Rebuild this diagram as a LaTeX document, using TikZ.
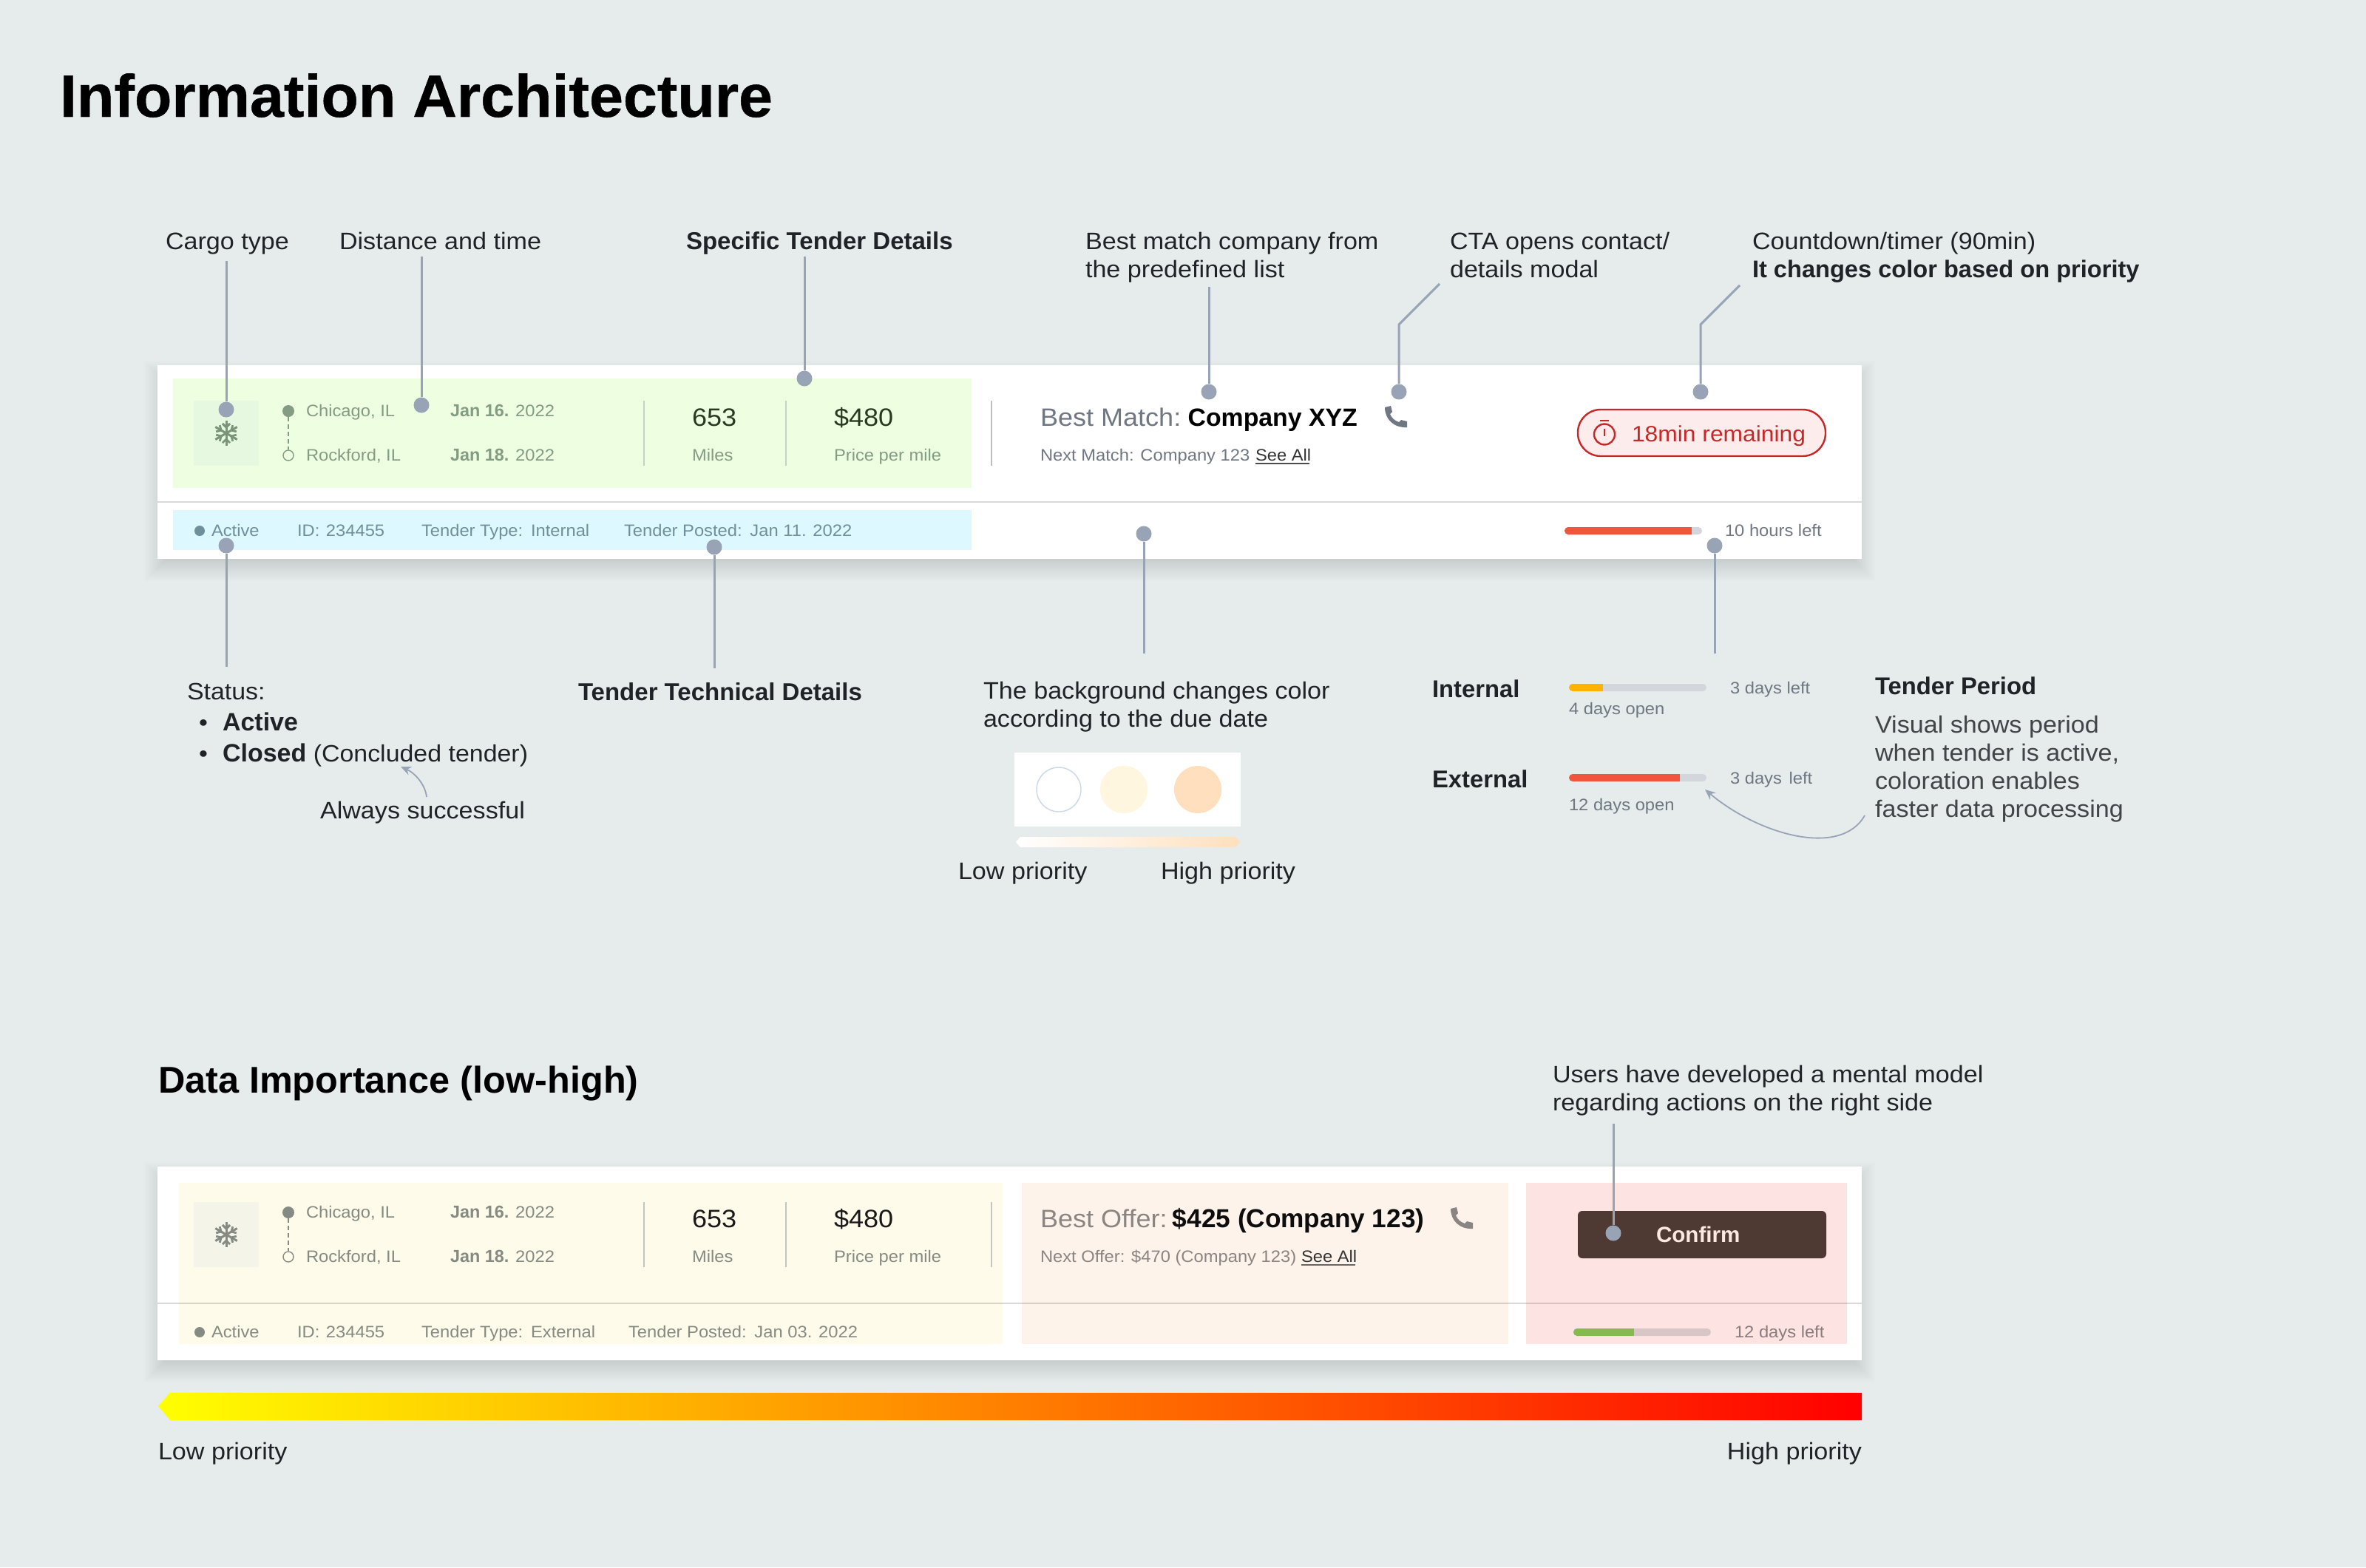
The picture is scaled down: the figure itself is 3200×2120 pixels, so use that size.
\documentclass[tikz,border=0pt]{standalone}
\usepackage{fontspec}
\setmainfont[FakeStretch=1.06,BoldFeatures={FakeStretch=1.0}]{Liberation Sans}
\newfontfamily\titlefont[FakeStretch=1.02,FakeBold=0.6]{Liberation Sans Bold}
\usetikzlibrary{arrows.meta}
\definecolor{bgc}{HTML}{E6EBEB}
\definecolor{ink}{HTML}{1F2328}
\definecolor{lead}{HTML}{98A4B6}
\definecolor{greenbg}{HTML}{EDFFE0}
\definecolor{greenicon}{HTML}{E6F8E0}
\definecolor{greentx}{HTML}{839C83}
\definecolor{greenflake}{HTML}{7A947A}
\definecolor{greendk}{HTML}{2A3A22}
\definecolor{bluebg}{HTML}{DDF8FF}
\definecolor{bluetx}{HTML}{6F8F9C}
\definecolor{greytx}{HTML}{6F7782}
\definecolor{ylbg}{HTML}{FEFBEA}
\definecolor{ylicon}{HTML}{F4F4E8}
\definecolor{yltx}{HTML}{858A82}
\definecolor{orbg}{HTML}{FDF3EA}
\definecolor{ortx}{HTML}{8A8482}
\definecolor{pkbg}{HTML}{FDE4E3}
\definecolor{pktx}{HTML}{8A7C7C}
\definecolor{redd}{HTML}{C62828}
\definecolor{pillbg}{HTML}{FDECEC}
\definecolor{barred}{HTML}{F2553D}
\definecolor{bargrey}{HTML}{D3D7DD}
\definecolor{barorange}{HTML}{FFB300}
\definecolor{bargreen}{HTML}{84BB4C}
\definecolor{barpink}{HTML}{D8C6C6}
\definecolor{btn}{HTML}{4E3933}
\definecolor{btntx}{HTML}{FDE8E0}
\definecolor{peach}{HTML}{FFDFBD}
\definecolor{cream}{HTML}{FFF6E0}
\definecolor{ringc}{HTML}{CBD8E8}
\newcommand{\cardshadow}[2]{%
  \foreach \e in {-12,-10,...,18}{
    \fill[black,opacity=.0072] (213-\e,#1+12-\e) rectangle (2518+\e,#2+12+\e);
  }}
\newcommand{\tbar}[6]{% x1 x2 xfill y base colour
  \fill[#6,rounded corners=2.5pt] (#1,#4) rectangle (#2,#4+10);
  \fill[#5,rounded corners=2.5pt] (#1,#4) rectangle (#1+12,#4+10);
  \fill[#5] (#1+6,#4) rectangle (#3,#4+10);}
\newcommand{\bb}[2]{{\fontsize{#1}{19}\selectfont\bfseries #2}}
\tikzset{
  txt/.style={anchor=base west,inner sep=0pt,outer sep=0pt,text=ink},
  fs/.style={font=\fontsize{#1}{19}\selectfont},
  fb/.style={font=\fontsize{#1}{19}\selectfont\bfseries},
  lab/.style={txt,fs=16.1},
  small/.style={txt,fs=11.2},
  pin/.style={circle,fill=lead,inner sep=0pt,minimum size=10.5pt},
  leader/.style={draw=lead,line width=1.5pt},
  curved/.style={draw=lead,line width=.9pt,-{Stealth[length=7pt,width=6pt]}},
  dotfull/.style={circle,inner sep=0pt,minimum size=8pt},
  dotopen/.style={circle,inner sep=0pt,minimum size=7pt,line width=.7pt},
  flake/.pic={
    \foreach \a in {90,150,...,450}{
      \begin{scope}[rotate=\a]
        \draw[line width=1.5pt] (0,0) -- (17,0);
        \draw[line width=1.4pt] (13,-5) -- (8,0) -- (13,5);
      \end{scope}}
  },
  phone/.pic={
    \fill (0,2) -- (8,0) -- (10,8) -- (7,11) .. controls (9,16) and (13,20) .. (19,22)
      -- (22,19) -- (30,21) -- (30,29) .. controls (12,30) and (0,18) .. (0,2) -- cycle;
  },
}
\begin{document}
\begin{tikzpicture}[x=0.5pt,y=-0.5pt]
\useasboundingbox (0,0) rectangle (3200,2120);
\fill[bgc] (0,0) rectangle (3200,2120);

% ---------- titles
\node[txt,text=black,font=\fontsize{40.5}{48}\selectfont\titlefont] (title) at (81,158) {Information Architecture};
\node[txt,text=black,fb=25.2] (subtitle) at (214,1478) {Data Importance (low-high)};

% ---------- top card
\cardshadow{494}{756}
\fill[white] (213,494) rectangle (2518,756);
\fill[greenbg] (234,512) rectangle (1314,660);
\fill[bluebg] (234,690) rectangle (1314,744);
\fill[black!15] (213,678) rectangle (2518,680);
\fill[greenicon] (262,542) rectangle (350,630);
\pic[color=greenflake] at (306,586) {flake};
\node[dotfull,fill=greentx] (a1) at (390,556) {};
\node[dotopen,draw=greentx] (a2) at (390,616) {};
\draw[greentx,line width=.6pt,dash pattern=on 3pt off 2pt] (a1) -- (a2);
\node[small,text=greentx] (t1) at (414,563) {Chicago, IL};
\node[small,text=greentx] (t2) at (414,623) {Rockford, IL};
\node[small,text=greentx] (t3) at (609,563) {\bb{11.7}{Jan 16.} 2022};
\node[small,text=greentx] (t4) at (609,623) {\bb{11.7}{Jan 18.} 2022};
\draw[greentx!45,line width=.7pt] (871,542) -- (871,630) (1063,542) -- (1063,630);
\draw[black!25,line width=.7pt] (1341,542) -- (1341,630);
\node[txt,fs=17,text=greendk] (t5) at (936,576) {653};
\node[small,text=greentx] (t6) at (936,623) {Miles};
\node[txt,fs=17,text=greendk] (t7) at (1128,576) {\$480};
\node[small,text=greentx] (t8) at (1128,623) {Price per mile};
\node[dotfull,fill=bluetx,minimum size=7pt] (a3) at (270,718) {};
\node[small,text=bluetx] (t9) at (286,725) {Active};
\node[small,text=bluetx] (t10) at (402,725) {ID:\hspace{1pt} 234455};
\node[small,text=bluetx] (t11) at (570,725) {Tender Type:\hspace{1pt} Internal};
\node[small,text=bluetx] (t12) at (844,725) {Tender Posted:\hspace{1pt} Jan 11. 2022};

\node[txt,fs=17,text=greytx] (m1) at (1407,576) {Best Match:\hspace{-2pt} \textcolor{black}{\bb{16.9}{Company XYZ}}};
\pic[color=greytx] at (1873,549) {phone};
\node[small,text=greytx] (m2) at (1407,623) {Next Match: Company 123};
\node[small,text=black!80] (m3) at (1698,623) {See All};
\draw[black!70,line width=.8pt] (m3.base west)++(0,4) -- ++(73,0);

\draw[redd,fill=pillbg,line width=1.2pt,rounded corners=15.5pt] (2134,554) rectangle (2469,617);
\draw[redd,line width=1.2pt] (2170,587.5) circle (14);
\draw[redd,line width=1.2pt] (2170,580) -- (2170,590);
\draw[redd,line width=1.3pt] (2164,569) -- (2176,569);
\node[txt,fs=15,text=redd] (m4) at (2207,597) {18min remaining};

\tbar{2116}{2302}{2288}{713}{barred}{bargrey}
\node[small,text=greytx] (m5) at (2333,725) {10 hours left};

% ---------- callouts, top
\node[lab] (l1) at (224,337) {Cargo type};
\node[lab] (l2) at (459,337) {Distance and time};
\node[txt,fb=16.5] (l3) at (928,337) {Specific Tender Details};
\node[lab,align=left] (l4) at (1468,375) {Best match company from\\the predefined list};
\node[lab,align=left] (l5) at (1961,375) {CTA opens contact/\\details modal};
\node[lab,align=left] (l6) at (2370,375) {Countdown/timer (90min)\\\bb{16.3}{It changes color based on priority}};

\node[pin] (p1) at (306,554) {};
\coordinate (c1) at (306,353);
\draw[leader] (c1) -- (p1);
\node[pin] (p2) at (570,548) {};
\coordinate (c2) at (570,347);
\draw[leader] (c2) -- (p2);
\node[pin] (p3) at (1088,512) {};
\coordinate (c3) at (1088,347);
\draw[leader] (c3) -- (p3);
\node[pin] (p4) at (1635,530) {};
\coordinate (c4) at (1635,388);
\draw[leader] (c4) -- (p4);
\node[pin] (p5) at (1892,530) {};
\coordinate (c5) at (1947,384);
\coordinate (e5) at (1892,439);
\draw[leader] (c5) -- (e5) -- (p5);
\node[pin] (p6) at (2300,530) {};
\coordinate (c6) at (2353,386);
\coordinate (e6) at (2300,439);
\draw[leader] (c6) -- (e6) -- (p6);
\node[pin] (p7) at (306,738) {};
\coordinate (c7) at (306,902);
\draw[leader] (p7) -- (c7);
\node[pin] (p8) at (966,740) {};
\coordinate (c8) at (966,904);
\draw[leader] (p8) -- (c8);
\node[pin] (p9) at (1547,722) {};
\coordinate (c9) at (1547,884);
\draw[leader] (p9) -- (c9);
\node[pin] (p10) at (2319,738) {};
\coordinate (c10) at (2319,884);
\draw[leader] (p10) -- (c10);

% ---------- callouts, below
\node[lab,align=left,font=\fontsize{16}{21}\selectfont] (s1) at (253,1030) {Status:\\\hspace*{8pt}\makebox[16pt][l]{•}\textbf{\fontsize{17}{21}\selectfont Active}\\\hspace*{8pt}\makebox[16pt][l]{•}\textbf{\fontsize{17}{21}\selectfont Closed} (Concluded tender)};
\node[lab] (s2) at (433,1107) {Always successful};
\coordinate (s3) at (577,1078);
\coordinate (s4) at (542,1037);
\draw[curved] (s3) .. controls (575,1060) and (560,1045) .. (s4);
\node[txt,fb=16.5] (s5) at (782,947) {Tender Technical Details};

\node[lab,align=left] (b1) at (1330,983) {The background changes color\\according to the due date};
\fill[white] (1372,1018) rectangle (1678,1118);
\node[circle,fill=white,draw=ringc,line width=.7pt,minimum size=30pt,inner sep=0pt] (b2) at (1432,1068) {};
\node[circle,fill=cream,minimum size=32pt,inner sep=0pt] (b3) at (1520,1068) {};
\node[circle,fill=peach,minimum size=32pt,inner sep=0pt] (b4) at (1620,1068) {};
\shade[left color=white,right color=peach] (1374,1139) -- (1380,1132) -- (1671,1132) -- (1677,1139) -- (1671,1146) -- (1380,1146) -- cycle;
\node[lab] (b5) at (1296,1189) {Low priority};
\node[lab] (b6) at (1570,1189) {High priority};

\node[txt,fb=16.4] (i1) at (1937,943) {Internal};
\node[txt,fb=16.4] (i2) at (1937,1065) {External};
\tbar{2122}{2308}{2168}{925}{barorange}{bargrey}
\tbar{2122}{2308}{2272}{1047}{barred}{bargrey}
\node[small,text=greytx] (i3) at (2122,966) {4 days open};
\node[small,text=greytx] (i4) at (2122,1096) {12 days open};
\node[small,text=greytx] (i5) at (2340,938) {3 days left};
\node[small,text=greytx] (i6) at (2340,1060) {3 days\hspace{1.5pt} left};
\node[txt,fb=16.4] (i7) at (2536,939) {Tender Period};
\node[lab,align=left,text=ink!85] (i8) at (2536,1105) {Visual shows period\\when tender is active,\\coloration enables\\faster data processing};
\coordinate (i9) at (2522,1103);
\coordinate (i10) at (2306,1068);
\draw[curved] (i9) .. controls (2490,1160) and (2380,1130) .. (i10);

% ---------- lower card
\node[lab,align=left] (u1) at (2100,1502) {Users have developed a mental model\\regarding actions on the right side};
\cardshadow{1578}{1840}
\fill[white] (213,1578) rectangle (2518,1840);
\fill[ylbg] (242,1600) rectangle (1356,1818);
\fill[orbg] (1382,1600) rectangle (2040,1818);
\fill[pkbg] (2064,1600) rectangle (2498,1818);
\fill[black,opacity=.15] (213,1762) rectangle (2518,1764);
\fill[ylicon] (262,1626) rectangle (350,1714);
\pic[color=yltx] at (306,1670) {flake};
\node[dotfull,fill=yltx] (d1) at (390,1640) {};
\node[dotopen,draw=yltx] (d2) at (390,1700) {};
\draw[yltx,line width=.6pt,dash pattern=on 3pt off 2pt] (d1) -- (d2);
\node[small,text=yltx] (n1) at (414,1647) {Chicago, IL};
\node[small,text=yltx] (n2) at (414,1707) {Rockford, IL};
\node[small,text=yltx] (n3) at (609,1647) {\bb{11.7}{Jan 16.} 2022};
\node[small,text=yltx] (n4) at (609,1707) {\bb{11.7}{Jan 18.} 2022};
\draw[yltx!50,line width=.7pt] (871,1626) -- (871,1714) (1063,1626) -- (1063,1714) (1341,1626) -- (1341,1714);
\node[txt,fs=17,text=black!90] (n5) at (936,1660) {653};
\node[small,text=yltx] (n6) at (936,1707) {Miles};
\node[txt,fs=17,text=black!90] (n7) at (1128,1660) {\$480};
\node[small,text=yltx] (n8) at (1128,1707) {Price per mile};
\node[dotfull,fill=yltx,minimum size=7pt] (d3) at (270,1802) {};
\node[small,text=yltx] (n9) at (286,1809) {Active};
\node[small,text=yltx] (n10) at (402,1809) {ID:\hspace{1pt} 234455};
\node[small,text=yltx] (n11) at (570,1809) {Tender Type:\hspace{1pt} External};
\node[small,text=yltx] (n12) at (850,1809) {Tender Posted:\hspace{1pt} Jan 03. 2022};

\node[txt,fs=17,text=ortx] (o1) at (1407,1660) {Best Offer:\hspace{-3pt} \textcolor{black!95}{\bb{17.6}{\$425 (Company 123)}}};
\pic[color=ortx] at (1962,1633) {phone};
\node[small,text=ortx] (o2) at (1407,1707) {Next Offer: \$470 (Company 123)};
\node[small,text=black!80] (o3) at (1760,1707) {See All};
\draw[black!60,line width=.8pt] (o3.base west)++(0,4) -- ++(73,0);

\fill[btn,rounded corners=3pt] (2134,1638) rectangle (2470,1702);
\node[txt,text=btntx,fb=14.8] (o4) at (2240,1680) {Confirm};
\tbar{2128}{2314}{2210}{1797}{bargreen}{barpink}
\node[small,text=pktx] (o5) at (2346,1809) {12 days left};
\node[pin] (p11) at (2182,1668) {};
\coordinate (c11) at (2182,1520);
\draw[leader] (c11) -- (p11);

% ---------- priority bar
\shade[left color=yellow,middle color=orange!90!yellow,right color=red] (214,1902) -- (230,1884) -- (2518,1884) -- (2518,1921) -- (230,1921) -- cycle;
\node[lab] (g1) at (214,1974) {Low priority};
\node[lab,anchor=base east] (g2) at (2518,1974) {High priority};
\end{tikzpicture}
\end{document}
